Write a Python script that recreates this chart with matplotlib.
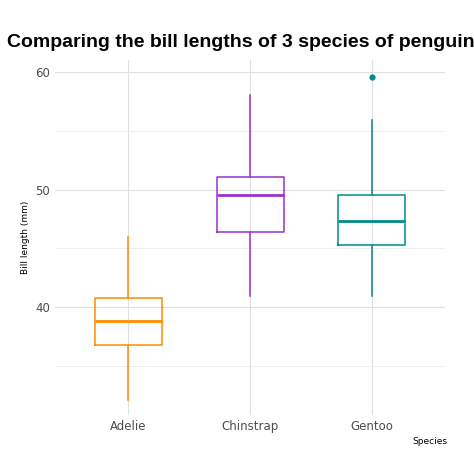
import matplotlib
matplotlib.use("Agg")
import matplotlib.pyplot as plt
from matplotlib import font_manager

species = ["Adelie", "Chinstrap", "Gentoo"]
whislo = [32.1, 40.9, 40.9]
q1 = [36.75, 46.35, 45.3]
med = [38.8, 49.55, 47.3]
q3 = [40.75, 51.08, 49.55]
whishi = [46.0, 58.0, 55.9]
fliers = [[], [], [59.6]]
colors = ["darkorange", "darkorchid", "darkcyan"]

names = {f.name for f in font_manager.fontManager.ttflist}
tfam = 'Liberation Sans Narrow' if 'Liberation Sans Narrow' in names else 'Liberation Sans'

fig = plt.figure(figsize=(4.74, 4.74), dpi=100)
ax = fig.add_axes([0.116, 0.124, 0.823, 0.749])
for i in range(3):
    st = [dict(label=species[i], whislo=whislo[i], q1=q1[i], med=med[i], q3=q3[i],
               whishi=whishi[i], fliers=fliers[i])]
    c = colors[i]
    ax.bxp(st, positions=[i + 1], widths=0.55, showcaps=False,
           boxprops=dict(color=c, lw=1.1), whiskerprops=dict(color=c, lw=1.1),
           medianprops=dict(color=c, lw=2),
           flierprops=dict(marker='o', markerfacecolor=c, markeredgecolor=c, markersize=3.5),
           zorder=3)
ax.set_xlim(0.4, 3.6)
ax.set_ylim(30.8, 61)
ax.set_xticks([1, 2, 3], species)
ax.set_yticks([40, 50, 60])
ax.set_yticks([35, 45, 55], minor=True)
ax.grid(True, which='major', color='#e0e0e0', lw=0.8)
ax.grid(True, which='minor', axis='y', color='#ededed', lw=0.6)
ax.set_axisbelow(True)
for s in ax.spines.values():
    s.set_visible(False)
ax.tick_params(length=0, labelsize=8.5, labelcolor='#4d4d4d', which='both')
ax.set_ylabel("Bill length (mm)", fontsize=6.5)
ax.set_xlabel("Species", fontsize=6.5)
ax.xaxis.set_label_coords(0.96, -0.06)
fig.text(0.52, 0.91, "Comparing the bill lengths of 3 species of penguins",
         ha='center', va='center', fontsize=14, fontweight='bold', family=tfam)
fig.savefig("out.png", dpi=100, facecolor='white')
